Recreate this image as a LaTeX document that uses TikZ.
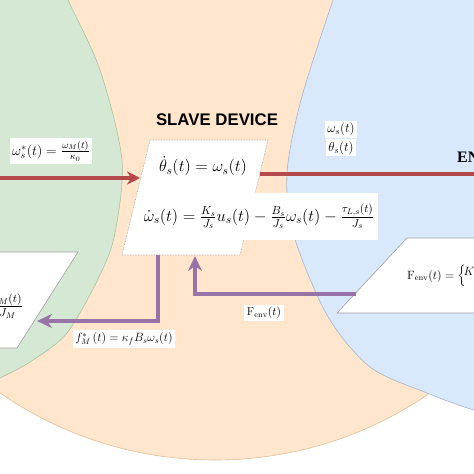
\RequirePackage{fix-cm}
\documentclass[tikz,border=0pt]{standalone}
\usepackage{amsmath}
\usepackage{fontspec}
\newfontfamily\titlesans{Liberation Sans}
\newfontfamily\titleserif{Liberation Serif}
\usetikzlibrary{arrows.meta,positioning}
\definecolor{masterfill}{HTML}{D5E8D4}
\definecolor{masteredge}{HTML}{A8C49E}
\definecolor{slavefill}{HTML}{FFE6CC}
\definecolor{slaveedge}{HTML}{E2BE94}
\definecolor{envfill}{HTML}{DAE8FC}
\definecolor{envedge}{HTML}{A3B5CE}
\definecolor{poscolor}{HTML}{B5484A}
\definecolor{forcecolor}{HTML}{9873A8}

\begin{document}
\begin{tikzpicture}[x=1pt,y=-1pt,
  eq/.style={inner sep=1pt,font=\fontsize{16.5}{19}\selectfont},
  eqbox/.style={fill=white,inner sep=0pt,minimum width=238pt,minimum height=47pt,font=\fontsize{16.5}{19}\selectfont},
  tag/.style={fill=white,inner sep=2.5pt,font=\fontsize{12}{14}\selectfont},
  blockedge/.style={draw=gray!75,line width=0.6pt},
  posline/.style={draw=poscolor,line width=3.2pt},
  posarrow/.style={posline,-{Stealth[length=13pt,width=13pt]}},
  forcearrow/.style={draw=forcecolor,line width=4pt,-{Stealth[length=15pt,width=14pt]}}]
\useasboundingbox (0,0) rectangle (474,474);
\clip (0,0) rectangle (474,474);
\fill[white] (0,0) rectangle (474,474);
\filldraw[fill=slavefill,draw=slaveedge,line width=0.6pt] (215,82) circle[radius=378];
\fill[masterfill] plot[smooth] coordinates {(55,-30) (68,0) (100,70) (122,160) (115,233) (100,275) (67,333) (30,362) (0,378) (-30,392)} -- (-30,-30) -- cycle;
\draw[masteredge,line width=0.6pt] plot[smooth] coordinates {(55,-30) (68,0) (100,70) (122,160) (115,233) (100,275) (67,333) (30,362) (0,378) (-30,392)};
\fill[envfill] plot[smooth] coordinates {(345,-30) (333,0) (301,100) (287,173) (293,233) (327,315) (370,367) (427,393) (474,410) (510,416)} -- (510,-30) -- cycle;
\draw[envedge,line width=0.6pt] plot[smooth] coordinates {(345,-30) (333,0) (301,100) (287,173) (293,233) (327,315) (370,367) (427,393) (474,410) (510,416)};

\coordinate (slaveTL) at (150,140);
\coordinate (slaveTR) at (268,140);
\coordinate (slaveBR) at (240,255);
\coordinate (slaveBL) at (122,255);
\fill[white] (slaveTL) -- (slaveTR) -- (slaveBR) -- (slaveBL) -- cycle;
\draw[blockedge,densely dotted] (slaveTL) -- (slaveTR) -- (slaveBR) -- (slaveBL) -- cycle;

\coordinate (masterTR) at (78,252);
\coordinate (masterBR) at (17,348);
\filldraw[fill=white,blockedge] (-10,252) -- (masterTR) -- (masterBR) -- (-10,348) -- cycle;

\coordinate (envTL) at (407,238);
\coordinate (envBL) at (337,313);
\filldraw[fill=white,blockedge] (envBL) -- (envTL) -- (490,238) -- (490,313) -- cycle;

\node[font=\titlesans\bfseries\fontsize{16.8}{20}\selectfont] (slavetitle) at (217,120) {SLAVE DEVICE};
\node[eq] (slaveeq1) at (203,166) {$\dot\theta_s(t)=\omega_s(t)$};
\node[eqbox] (slaveeq2) at (259,216.5) {$\dot\omega_s(t)=\tfrac{K_s}{J_s}u_s(t)-\tfrac{B_s}{J_s}\omega_s(t)-\tfrac{\tau_{L,s}(t)}{J_s}$};
\node[eq,anchor=east,inner sep=0pt] (mastereq) at (23,306) {$\tfrac{\tau_M(t)}{J_M}$};
\node[eq,anchor=west,inner sep=0pt,font=\fontsize{12}{14}\selectfont] (enveq) at (407,276) {$\mathrm{F_{env}}(t)=\Bigl\{\!\raisebox{4pt}{$K_s$}$};
\node[anchor=west,inner sep=0pt,font=\titleserif\bfseries\fontsize{16}{19}\selectfont] (envtitle) at (457,157) {EN};

\node[tag,font=\fontsize{14}{17}\selectfont] (wsref) at (51,151) {$\omega_s^*(t)=\tfrac{\omega_M(t)}{\kappa_0}$};
\node[tag,font=\fontsize{13}{15}\selectfont,inner sep=2pt] (wsout) at (341,129) {$\omega_s(t)$};
\node[tag,font=\fontsize{13}{15}\selectfont,inner sep=2pt,below=1.5pt of wsout] (thsout) {$\theta_s(t)$};
\node[tag] (fblabel) at (124,339) {$f_M^*\,(t)=\kappa_f B_s\omega_s(t)$};
\node[tag,font=\fontsize{11.5}{14}\selectfont] (fenvlabel) at (264,313) {$\mathrm{F_{env}}(t)$};

\coordinate (masterout) at (0,178);
\coordinate (slavein) at (140,178);
\coordinate (slaveout) at (260,174);
\coordinate (envin) at (474,174);
\coordinate (slavefb) at (158,255);
\coordinate (masterin) at (37,321);
\coordinate (envout) at (356,294);
\coordinate (slavefd) at (195,256);
\draw[posarrow] (masterout) -- (slavein);
\draw[posline] (slaveout) -- (envin);
\draw[forcearrow] (slavefb) |- (masterin);
\draw[forcearrow] (envout) -| (slavefd);
\end{tikzpicture}
\end{document}
